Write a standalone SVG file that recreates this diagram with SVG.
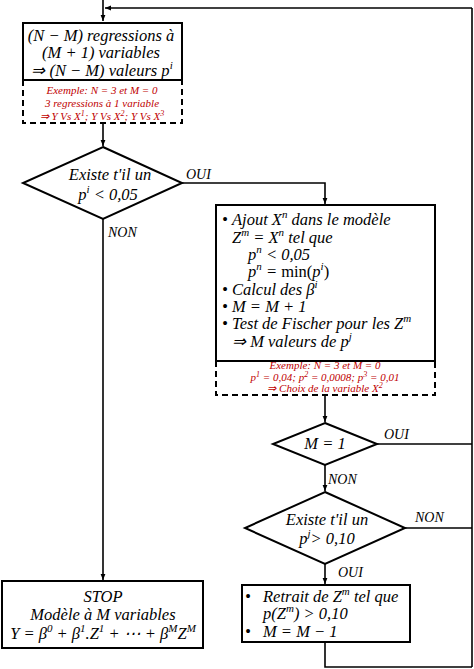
<svg xmlns="http://www.w3.org/2000/svg" width="474" height="669" viewBox="0 0 474 669">
<style>
.t{font-family:"Liberation Serif",serif;font-style:italic;font-size:16.5px;fill:#000}
.c{text-anchor:middle}
.r{font-family:"Liberation Serif",serif;font-style:italic;font-size:11px;fill:#c00000;text-anchor:middle}
.box{fill:#fff;stroke:#000;stroke-width:2}
.dash{fill:none;stroke:#000;stroke-width:2;stroke-dasharray:6,4}
.ln{fill:none;stroke:#000;stroke-width:1.6}
.lb{font-family:"Liberation Serif",serif;font-style:italic;font-size:14px;fill:#000}
.up{font-style:normal}
</style>
<defs>
<marker id="ah" viewBox="0 0 10 10" refX="10" refY="5" markerWidth="6" markerHeight="6" orient="auto" markerUnits="userSpaceOnUse">
<path d="M0,1 L10,5 L0,9 z" fill="#000"/>
</marker>
</defs>
<g id="connectors">
<path class="ln" d="M103,0 V21" marker-end="url(#ah)"/>
<path class="ln" d="M472,8 H105" marker-end="url(#ah)"/>
<path class="ln" d="M472,8 V667" stroke="#444"/>
<path class="ln" d="M325,642 V667 H472" stroke="#999"/>
<path class="ln" d="M103,123 V146" marker-end="url(#ah)"/>
<path class="ln" d="M182,183 H325 V204" marker-end="url(#ah)"/>
<path class="ln" d="M103,219 V580" marker-end="url(#ah)"/>
<path class="ln" d="M325,395 V422" marker-end="url(#ah)"/>
<path class="ln" d="M377,444 H472"/>
<path class="ln" d="M325,465 V491" marker-end="url(#ah)"/>
<path class="ln" d="M405,528 H472"/>
<path class="ln" d="M325,564 V584" marker-end="url(#ah)"/>
<text class="lb" x="186" y="179">OUI</text>
<text class="lb" x="108" y="237">NON</text>
<text class="lb" x="384" y="439">OUI</text>
<text class="lb" x="328" y="484">NON</text>
<text class="lb" x="415" y="522">NON</text>
<text class="lb" x="338" y="577">OUI</text>
</g>
<g id="n1">
<rect class="box" x="23" y="23" width="159" height="57"/>
<text class="t c" x="101" y="41" font-size="17.5">(N − M) regressions à</text>
<text class="t c" x="101" y="58" font-size="17.5">(M + 1) variables</text>
<text class="t c" x="102" y="76" font-size="17.5">⇒ (N − M) valeurs p<tspan font-size="11" dy="-7">i</tspan></text>
</g>
<g id="n1ex">
<path class="dash" d="M23,80 V123 H182 V80"/>
<text class="r" x="102" y="94">Exemple: N = 3 et M = 0</text>
<text class="r" x="102" y="107">3 regressions à 1 variable</text>
<text class="r" x="102" y="120">⇒ Y Vs X<tspan font-size="8" dy="-4">1</tspan><tspan dy="4">; Y Vs X</tspan><tspan font-size="8" dy="-4">2</tspan><tspan dy="4">; Y Vs X</tspan><tspan font-size="8" dy="-4">3</tspan></text>
</g>
<g id="d1">
<polygon class="box" points="103,147 182,183 103,219 23,183"/>
<text class="t c" x="110" y="180" font-size="17">Existe t'il un</text>
<text class="t c" x="108" y="200" font-size="17">p<tspan font-size="11" dy="-7">i</tspan><tspan dy="7"> &lt; 0,05</tspan></text>
</g>
<g id="n2">
<rect class="box" x="216" y="205" width="219" height="156"/>
<text class="t" x="222" y="225">•<tspan x="232">Ajout X</tspan><tspan font-size="11" dy="-7">n</tspan><tspan dy="7"> dans le modèle</tspan></text>
<text class="t" x="232" y="243">Z<tspan font-size="11" dy="-7">m</tspan><tspan dy="7"> = X</tspan><tspan font-size="11" dy="-7">n</tspan><tspan dy="7"> tel que</tspan></text>
<text class="t" x="248" y="260">p<tspan font-size="11" dy="-7">n</tspan><tspan dy="7"> &lt; 0,05</tspan></text>
<text class="t" x="248" y="277">p<tspan font-size="11" dy="-7">n</tspan><tspan dy="7"> = </tspan><tspan class="up">min(</tspan>p<tspan font-size="11" dy="-7">i</tspan><tspan dy="7" class="up">)</tspan></text>
<text class="t" x="222" y="295">•<tspan x="232">Calcul des β</tspan><tspan font-size="11" dy="-7">i</tspan></text>
<text class="t" x="222" y="312">•<tspan x="232">M = M + 1</tspan></text>
<text class="t" x="222" y="329">•<tspan x="232">Test de Fischer pour les Z</tspan><tspan font-size="11" dy="-7">m</tspan></text>
<text class="t" x="232" y="347">⇒ M valeurs de p<tspan font-size="11" dy="-7">j</tspan></text>
</g>
<g id="n2ex">
<path class="dash" d="M216,361 V395 H435 V361"/>
<text class="r" x="325" y="369">Exemple: N = 3 et M = 0</text>
<text class="r" x="325" y="381">p<tspan font-size="8" dy="-4">1</tspan><tspan dy="4"> = 0,04; p</tspan><tspan font-size="8" dy="-4">2</tspan><tspan dy="4"> = 0,0008; p</tspan><tspan font-size="8" dy="-4">3</tspan><tspan dy="4"> = 0,01</tspan></text>
<text class="r" x="325" y="392">⇒ Choix de la variable X<tspan font-size="8" dy="-4">2</tspan></text>
</g>
<g id="d2">
<polygon class="box" points="325,423 377,444 325,465 273,444"/>
<text class="t c" x="325" y="449">M = 1</text>
</g>
<g id="d3">
<polygon class="box" points="325,492 405,528 325,564 245,528"/>
<text class="t c" x="327" y="525" font-size="17">Existe t'il un</text>
<text class="t c" x="327" y="544" font-size="17">p<tspan font-size="11" dy="-7">j</tspan><tspan dy="7">&gt; 0,10</tspan></text>
</g>
<g id="n3">
<rect class="box" x="242" y="585" width="168" height="57"/>
<text class="t" x="245" y="602">•<tspan x="263">Retrait de Z</tspan><tspan font-size="11" dy="-7">m</tspan><tspan dy="7"> tel que</tspan></text>
<text class="t" x="263" y="619">p(Z<tspan font-size="11" dy="-7">m</tspan><tspan dy="7">) &gt; 0,10</tspan></text>
<text class="t" x="245" y="637">•<tspan x="263">M = M − 1</tspan></text>
</g>
<g id="stop">
<rect class="box" x="2" y="581" width="201" height="67"/>
<text class="t c" x="103" y="602">STOP</text>
<text class="t c" x="103" y="620">Modèle à M variables</text>
<text class="t c" x="103" y="639">Y = β<tspan font-size="11" dy="-7">0</tspan><tspan dy="7"> + β</tspan><tspan font-size="11" dy="-7">1</tspan><tspan dy="7">.Z</tspan><tspan font-size="11" dy="-7">1</tspan><tspan dy="7"> + ⋯ + β</tspan><tspan font-size="11" dy="-7">M</tspan><tspan dy="7">Z</tspan><tspan font-size="11" dy="-7">M</tspan></text>
</g>
</svg>
